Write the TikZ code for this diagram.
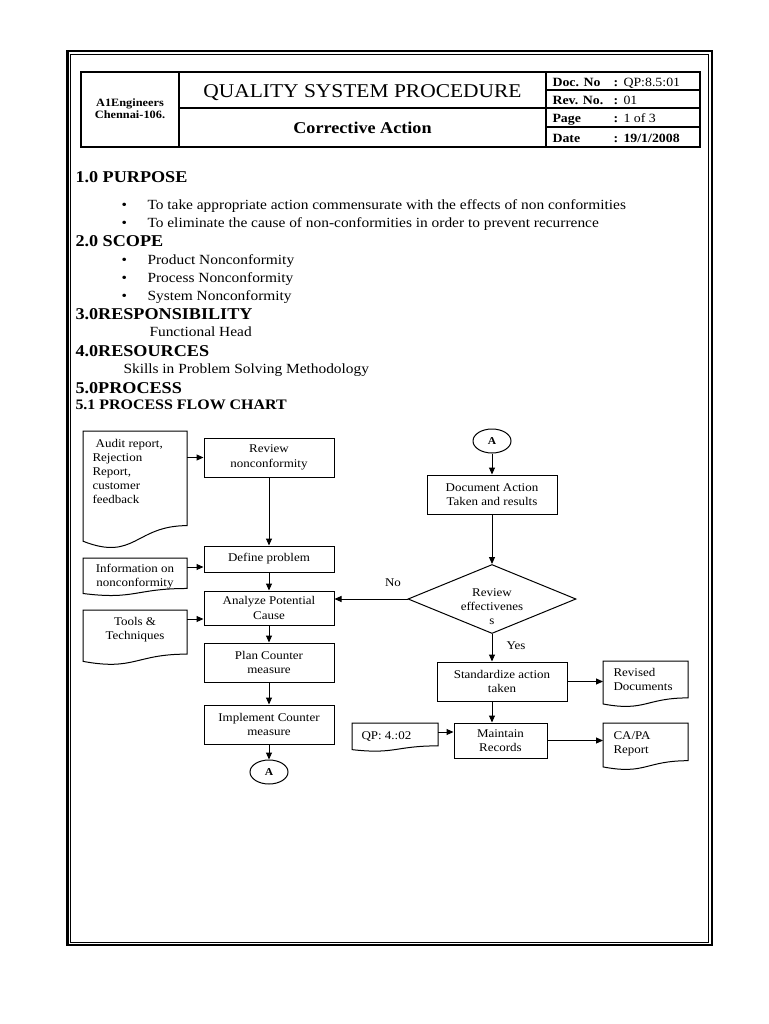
\documentclass[tikz,border=0pt]{standalone}
\usepackage{fontspec}
\setmainfont{Liberation Serif}[FakeStretch=1.1]
\usetikzlibrary{calc,positioning,shapes.geometric,arrows.meta}

% outline of a flow chart document symbol (wavy bottom)
\newcommand{\docoutline}[1]{%
  \draw (#1.north west) -- (#1.north east)
    -- ($(#1.north east)!0.802!(#1.south east)$)
    .. controls ($(#1.north)!0.802!(#1.south)$) and ($(#1.north)!1.107!(#1.south)$)
    .. ($(#1.north west)!0.934!(#1.south west)$) -- cycle;}

\begin{document}
\begin{tikzpicture}[x=1pt, y=-1pt, line width=1pt, >={Triangle[length=7pt,width=6pt]}]
    \tikzstyle{every node}=[inner sep=0pt]
    \tikzstyle{heading}=[anchor=base west, font=\bfseries\fontsize{16.5}{18}\selectfont]
    \tikzstyle{body}=[anchor=base west, font=\fontsize{14}{18}\selectfont]
    \tikzstyle{cell}=[anchor=base west, font=\fontsize{12.6}{14}\selectfont]
    \tikzstyle{stepbox}=[draw, rectangle, align=center, minimum width=130pt, font=\fontsize{11.8}{14.5}\selectfont]
    \tikzstyle{docbox}=[rectangle, anchor=north west]
    \tikzstyle{doctext}=[font=\fontsize{11.8}{14}\selectfont]
    \tikzstyle{connector}=[draw, ellipse, minimum width=38pt, minimum height=24pt, font=\bfseries\fontsize{10.5}{12}\selectfont]
    \tikzstyle{decision}=[draw, diamond, minimum width=168pt, minimum height=69pt]
    \tikzstyle{lbl}=[font=\fontsize{11.8}{14}\selectfont]

    \fill[white] (0,0) rectangle (768,1024);
    \useasboundingbox (0,0) rectangle (768,1024);

    % Page frame (double line)
    \draw[line width=2.6pt] (67.3,51) rectangle (711.8,945);
    \draw[line width=0.8pt] (70.8,54.2) rectangle (708.8,942);

    % Header table
    \draw[line width=1.1pt] (81,72) rectangle (700,147);
    \draw[line width=1.1pt] (179,72) -- (179,147);
    \draw[line width=1.1pt] (546,72) -- (546,147);
    \draw[line width=1.1pt] (179,108) -- (546,108);
    \foreach \y in {90,108,127}
        \draw[line width=1.1pt] (546,\y) -- (700,\y);

    \node[anchor=base, font=\bfseries\fontsize{11.2}{12}\selectfont] (company) at (130,106.5) {A1Engineers};
    \node[anchor=base, font=\bfseries\fontsize{11.2}{12}\selectfont] (city) at (130,118.3) {Chennai-106.};
    \node[anchor=base, font=\fontsize{19.5}{22}\selectfont] (title) at (362.5,97.5) {QUALITY SYSTEM PROCEDURE};
    \node[anchor=base, font=\bfseries\fontsize{16.5}{18}\selectfont] (subtitle) at (362.5,133.5) {Corrective Action};

    \foreach \lab/\val/\y [count=\i] in {Doc. No/QP:8.5:01/86.5, Rev. No./01/104.5, Page/1 of 3/123, Date/{\textbf{19/1/2008}}/142.5} {
        \node[cell] (lab-\i) at (552,\y) {\bfseries\lab};
        \node[cell] (colon-\i) at (613,\y) {\bfseries :};
        \node[cell] (val-\i) at (623,\y) {\val};
    }

    % Sections
    \node[heading] (purpose) at (75,182.7) {1.0 PURPOSE};
    \foreach \txt/\y [count=\i] in {To take appropriate action commensurate with the effects of non conformities/209.3,
                                  To eliminate the cause of non-conformities in order to prevent recurrence/227.7} {
        \node[body] (purpose-dot\i) at (121,\y) {\textbullet};
        \node[body] (purpose-\i) at (147,\y) {\txt};
    }
    \node[heading] (scope) at (75,246.7) {2.0 SCOPE};
    \foreach \txt/\y [count=\i] in {Product/264, Process/282.3, System/300.7} {
        \node[body] (scope-dot\i) at (121,\y) {\textbullet};
        \node[body] (scope-\i) at (147,\y) {\txt\ Nonconformity};
    }
    \node[heading] (resp) at (75,319.3) {3.0RESPONSIBILITY};
    \node[body] (resp-txt) at (149,336.7) {Functional Head};
    \node[heading] (res) at (75,356) {4.0RESOURCES};
    \node[body] (res-txt) at (123,373.3) {Skills in Problem Solving Methodology};
    \node[heading] (proc) at (75,393.3) {5.0PROCESS};
    \node[heading, font=\bfseries\fontsize{14.5}{16}\selectfont] (flow) at (75,409.3) {5.1 PROCESS FLOW CHART};

    % Left column of the flow chart
    \node[stepbox, minimum height=39pt] (review) at (269,457.5) {Review\\nonconformity};
    \node[stepbox, minimum height=26pt] (define) at (269,559) {Define problem};
    \node[stepbox, minimum height=34pt] (analyze) at (269,608) {Analyze Potential\\Cause};
    \node[stepbox, minimum height=39pt] (plan) at (269,662.5) {Plan Counter\\measure};
    \node[stepbox, minimum height=39pt] (implement) at (269,724.5) {Implement Counter\\measure};
    \node[connector] (A-out) at (269,772) {A};

    % Input documents
    \node[docbox, minimum width=103pt, minimum height=117pt] (audit) at (83,431) {};
    \node[docbox, minimum width=103pt, minimum height=37pt] (info) at (83,558) {};
    \node[docbox, minimum width=103pt, minimum height=54pt] (tools) at (83,610) {};
    \docoutline{audit}
    \docoutline{info}
    \docoutline{tools}
    \node[doctext, align=left, anchor=north west] (audit-txt) at ([xshift=9pt,yshift=-8pt]audit.north west)
        {\ Audit report,\\Rejection\\Report,\\customer\\feedback};
    \node[doctext, align=center, anchor=north] (info-txt) at ([yshift=-5.5pt]info.north) {Information on\\nonconformity};
    \node[doctext, align=center, anchor=north] (tools-txt) at ([yshift=-7pt]tools.north) {Tools \&\\Techniques};

    % Right column of the flow chart
    \node[connector] (A-in) at (492,441) {A};
    \node[stepbox, minimum height=39pt] (docact) at (492,494.5) {Document Action\\Taken and results};
    \node[decision] (review-eff) at (492,599) {};
    \node[lbl, align=center] (review-eff-txt) at (492,607) {Review\\effectivenes\\s};
    \node[stepbox, minimum height=39pt] (standardize) at (502,681.5) {Standardize action\\taken};
    \node[stepbox, minimum width=93pt, minimum height=35pt] (maintain) at (500.5,740.5) {Maintain\\Records};
    \node[lbl] (no-lbl) at (393,583) {No};
    \node[lbl] (yes-lbl) at (516,646) {Yes};

    % Output documents and reference
    \node[docbox, minimum width=84pt, minimum height=45pt] (revised) at (603,661) {};
    \node[docbox, minimum width=85pt, minimum height=27.5pt] (qp) at (352,723) {};
    \node[docbox, minimum width=84pt, minimum height=46pt] (capa) at (603,723) {};
    \docoutline{revised}
    \docoutline{qp}
    \docoutline{capa}
    \node[doctext, align=left, anchor=north west] (revised-txt) at ([xshift=10pt,yshift=-7pt]revised.north west) {Revised\\Documents};
    \node[doctext, align=left, anchor=north west] (qp-txt) at ([xshift=9pt,yshift=-8pt]qp.north west) {QP: 4.:02};
    \node[doctext, align=left, anchor=north west] (capa-txt) at ([xshift=10pt,yshift=-8pt]capa.north west) {CA/PA\\Report};

    % Connectors, left column
    \draw[->] (audit.north east |- review.west) -- (review.west);
    \draw[->] (review) -- (define);
    \draw[->] ([yshift=-9pt]info.north east) -- ([yshift=-9pt]info.north east -| define.west);
    \draw[->] (define) -- (analyze);
    \draw[->] ([yshift=-9pt]tools.north east) -- ([yshift=-9pt]tools.north east -| analyze.west);
    \draw[->] (analyze) -- (plan);
    \draw[->] (plan) -- (implement);
    \draw[->] (implement) -- (A-out);

    % Connectors, right column
    \draw[->] (A-in) -- (docact);
    \draw[->] (docact) -- (review-eff);
    \draw[->] (review-eff.west) -- (review-eff.west -| analyze.east);
    \draw[->] (review-eff.south) -- (review-eff.south |- standardize.north);
    \draw[->] (standardize.east) -- (standardize.east -| revised.west);
    \draw[->] (review-eff.south |- standardize.south) -- (review-eff.south |- maintain.north);
    \draw[->] ([yshift=-9pt]qp.north east) -- ([yshift=-9pt]qp.north east -| maintain.west);
    \draw[->] (maintain.east) -- (maintain.east -| capa.west);
\end{tikzpicture}
\end{document}
